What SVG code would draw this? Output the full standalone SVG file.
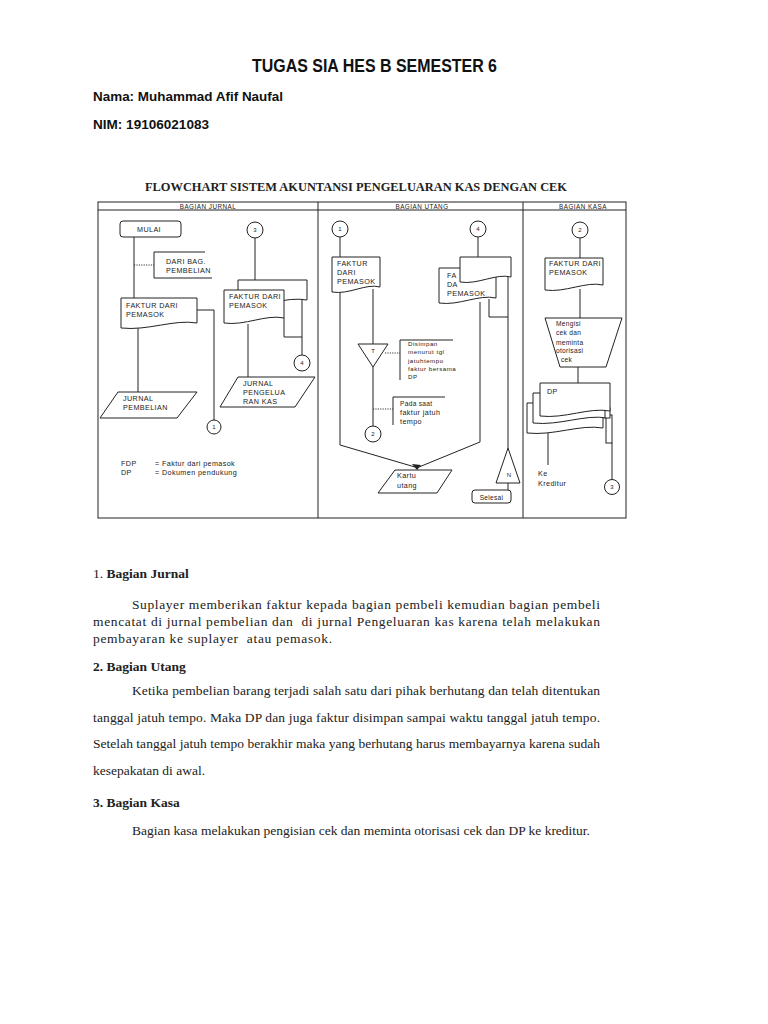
<svg xmlns="http://www.w3.org/2000/svg" width="768" height="1024" viewBox="0 0 768 1024">
<style>
.ln{stroke:#222;fill:none;stroke-width:1}
.sh{stroke:#222;fill:#fff;stroke-width:1}
.dot{stroke:#222;fill:none;stroke-width:0.9;stroke-dasharray:1.2 1.2}
.t{font-family:"Liberation Sans",Arial,sans-serif;font-size:7.2px;letter-spacing:0.4px;fill:#222}
.s{font-family:"Liberation Sans",Arial,sans-serif;font-size:6.2px;letter-spacing:0.5px;fill:#222}
.m{font-family:"Liberation Sans",Arial,sans-serif;font-size:6.6px;letter-spacing:0.3px;fill:#222}
.hd{font-family:"Liberation Sans",Arial,sans-serif;font-size:6.3px;letter-spacing:0.5px;fill:#222;text-anchor:middle}
.c{font-family:"Liberation Sans",Arial,sans-serif;font-size:6px;fill:#222;text-anchor:middle}
.ti{font-family:"Liberation Sans",Arial,sans-serif;font-weight:bold;fill:#111}
.p{font-family:"Liberation Serif","Times New Roman",serif;font-size:13.5px;fill:#222}
.pb{font-family:"Liberation Serif","Times New Roman",serif;font-size:13.5px;font-weight:bold;fill:#222}
</style>
<rect width="768" height="1024" fill="#fff"/>

<text class="ti" x="252" y="72" font-size="19" textLength="245" lengthAdjust="spacingAndGlyphs">TUGAS SIA HES B SEMESTER 6</text>
<text class="ti" x="93" y="101" font-size="12.5" textLength="190" lengthAdjust="spacingAndGlyphs">Nama: Muhammad Afif Naufal</text>
<text class="ti" x="93" y="129" font-size="12.5" textLength="116" lengthAdjust="spacingAndGlyphs">NIM: 19106021083</text>
<text class="pb" x="145" y="191" font-size="12" textLength="422" lengthAdjust="spacingAndGlyphs">FLOWCHART SISTEM AKUNTANSI PENGELUARAN KAS DENGAN CEK</text>

<g id="frame">
<rect x="98" y="202" width="528" height="316" class="ln" stroke-width="1.2"/>
<line x1="98" y1="210" x2="626" y2="210" class="ln"/>
<line x1="318" y1="202" x2="318" y2="518" class="ln"/>
<line x1="523" y1="202" x2="523" y2="518" class="ln"/>
<text class="hd" x="208" y="208.5">BAGIAN JURNAL</text>
<text class="hd" x="422" y="208.5">BAGIAN UTANG</text>
<text class="hd" x="583" y="208.5">BAGIAN KASA</text>
</g>

<g id="connectors">
<path class="ln" d="M134,237 V298"/>
<path class="dot" d="M134,265 H154"/>
<path class="ln" d="M197,310 H214 V420"/>
<path class="ln" d="M138,327 V392"/>
<path class="ln" d="M255,238 V280"/>
<path class="ln" d="M302,300 V355"/>
<path class="ln" d="M284,318 V337 H302"/>
<path class="ln" d="M248,324 V377"/>
<path class="ln" d="M340,237 V257"/>
<path class="ln" d="M340,291 V445 L415,467"/>
<path class="ln" d="M373,289 V344"/>
<path class="ln" d="M373,367 V426"/>
<path class="dot" d="M385,353 H400"/>
<path class="dot" d="M373,409 H393"/>
<path class="ln" d="M478,237 V257"/>
<path class="ln" d="M508,277 V448"/>
<path class="ln" d="M489,299 V317 H508"/>
<path class="ln" d="M480,302 V442 L419,467"/>
<polygon points="417,470 412,464 421,465" fill="#222"/>
<path class="ln" d="M508,483 V490"/>
<path class="ln" d="M580,238 V258"/>
<path class="ln" d="M580,289 V318"/>
<path class="ln" d="M578,367 V383"/>
<path class="ln" d="M548,432 V465"/>
<path class="ln" d="M612,443 V479.5"/>
</g>

<g id="mulai"><rect x="120" y="221" width="61" height="16" rx="3" class="sh"/><text class="t" x="149" y="231.5" text-anchor="middle">MULAI</text></g>
<g id="ann-pembelian"><path class="ln" d="M205,252 H154 V278 H212"/><text class="t" x="166" y="264">DARI BAG.</text><text class="t" x="166" y="272.5">PEMBELIAN</text></g>
<g id="faktur-jurnal"><path class="sh" d="M121,298 H197 V323 C174,319 148,331 121,328 Z"/><text class="t" x="126" y="307.5">FAKTUR DARI</text><text class="t" x="126" y="316.5">PEMASOK</text></g>
<g id="conn1-j"><circle cx="214" cy="427" r="7" class="sh"/><text class="c" x="214" y="429">1</text></g>
<g id="jurnal-pembelian"><polygon class="sh" points="118,392 197,392 177,418 100,418"/><text class="t" x="123" y="400.5">JURNAL</text><text class="t" x="123" y="409.5">PEMBELIAN</text></g>
<g id="conn3-j"><circle cx="255" cy="230" r="8" class="sh"/><text class="c" x="255" y="232">3</text></g>
<g id="faktur-stack-j"><path class="sh" d="M238,280 H307 V300 C286,296 262,308 238,305 Z"/><path class="sh" d="M224,290 H284 V318 C266,314 245,326 224,323 Z"/><text class="t" x="229" y="298.5">FAKTUR DARI</text><text class="t" x="229" y="307.5">PEMASOK</text></g>
<g id="conn4-j"><circle cx="302" cy="363" r="8" class="sh"/><text class="c" x="302" y="365">4</text></g>
<g id="jurnal-pengeluaran"><polygon class="sh" points="238,377 315,377 295,407 220,407"/><text class="t" x="243" y="385.5">JURNAL</text><text class="t" x="243" y="394.5">PENGELUA</text><text class="t" x="243" y="403.5">RAN KAS</text></g>
<g id="legend"><text class="t" x="121" y="466">FDP</text><text class="t" x="155" y="466">= Faktur dari pemasok</text><text class="t" x="121" y="475">DP</text><text class="t" x="155" y="475">= Dokumen pendukung</text></g>

<g id="conn1-u"><circle cx="340" cy="229" r="8" class="sh"/><text class="c" x="340" y="231">1</text></g>
<g id="faktur-utang"><path class="sh" d="M332,257 H380 V287 C366,283 349,295 332,292 Z"/><text class="t" x="337" y="265.5">FAKTUR</text><text class="t" x="337" y="274.5">DARI</text><text class="t" x="337" y="283.5">PEMASOK</text></g>
<g id="arsip-t"><polygon class="sh" points="358,344 388,344 373,367"/><text class="c" x="373" y="353">T</text></g>
<g id="ann-disimpan"><path class="ln" d="M453,340 H400 V380"/><text class="s" x="408" y="346">Disimpan</text><text class="s" x="408" y="354">menurut tgl</text><text class="s" x="408" y="362.5">jatuhtempo</text><text class="s" x="408" y="370.5">faktur bersama</text><text class="s" x="408" y="378.5">DP</text></g>
<g id="ann-pada-saat"><path class="ln" d="M445,397 H393 V425"/><text class="m" x="400" y="406">Pada saat</text><text class="t" x="400" y="414.5">faktur jatuh</text><text class="t" x="400" y="423.5">tempo</text></g>
<g id="conn2-u"><circle cx="373" cy="434" r="8" class="sh"/><text class="c" x="373" y="436">2</text></g>
<g id="conn4-u"><circle cx="478" cy="229" r="8" class="sh"/><text class="c" x="478" y="231">4</text></g>
<g id="faktur-stack-u"><path class="sh" d="M439,268 H496 V298 C479,294 459,306 439,303 Z"/><text class="t" x="447" y="277.5">FA</text><text class="t" x="447" y="286.5">DA</text><text class="t" x="447" y="295.5">PEMASOK</text><path class="sh" d="M460,257 H511 V277 C496,273 478,285 460,282 Z"/></g>
<g id="kartu-utang"><polygon class="sh" points="395,470 452,470 437,493 378,493"/><text class="t" x="397" y="478">Kartu</text><text class="t" x="397" y="488">utang</text></g>
<g id="arsip-n"><polygon class="sh" points="508,448 520,483 496,483"/><text class="c" x="509" y="477">N</text></g>
<g id="selesai"><rect x="472" y="490" width="39" height="13" rx="3" class="sh"/><text class="m" x="491.5" y="499.5" text-anchor="middle">Selesai</text></g>

<g id="conn2-k"><circle cx="580" cy="230" r="8" class="sh"/><text class="c" x="580" y="232">2</text></g>
<g id="faktur-kasa"><path class="sh" d="M545,258 H603 V285 C586,281 565,293 545,290 Z"/><text class="t" x="549" y="265.5">FAKTUR DARI</text><text class="t" x="549" y="274.5">PEMASOK</text></g>
<g id="mengisi-cek"><polygon class="sh" points="545,318 622,318 606,367 560,367"/><text class="m" x="556" y="326">Mengisi</text><text class="m" x="556" y="335">cek dan</text><text class="m" x="556" y="344.5">meminta</text><text class="m" x="556" y="353">otorisasi</text><text class="m" x="561" y="362">cek</text></g>
<g id="dp-stack">
<path class="sh" d="M527,403 H603 V428 C580,424 554,436 527,433 Z"/>
<path class="sh" d="M533,393 H607 V418 C585,414 559,426 533,423 Z"/>
<rect x="606" y="415" width="6" height="28" class="sh"/>
<rect x="605" y="408" width="5" height="10" class="sh"/>
<path class="sh" d="M540,383 H610 V411 C589,407 565,419 540,416 Z"/>
<text class="t" x="547" y="393.5">DP</text>
</g>
<g id="ke-kreditur"><text class="t" x="538" y="476">Ke</text><text class="t" x="538" y="486">Kreditur</text></g>
<g id="conn3-k"><circle cx="612" cy="487" r="7.5" class="sh"/><text class="c" x="612" y="489">3</text></g>

<g id="text">
<text class="p" x="93" y="578">1. <tspan class="pb">Bagian Jurnal</tspan></text>
<text class="p" x="132" y="609" textLength="468" lengthAdjust="spacing">Suplayer memberikan faktur kepada bagian pembeli kemudian bagian pembeli</text>
<text class="p" x="93" y="626" textLength="507" lengthAdjust="spacing" xml:space="preserve">mencatat di jurnal pembelian dan  di jurnal Pengeluaran kas karena telah melakukan</text>
<text class="p" x="93" y="643" textLength="239" lengthAdjust="spacing" xml:space="preserve">pembayaran ke suplayer  atau pemasok.</text>
<text class="pb" x="93" y="671">2. Bagian Utang</text>
<text class="p" x="132" y="695" textLength="468" lengthAdjust="spacing">Ketika pembelian barang terjadi salah satu dari pihak berhutang dan telah ditentukan</text>
<text class="p" x="93" y="722" textLength="507" lengthAdjust="spacing">tanggal jatuh tempo. Maka DP dan juga faktur disimpan sampai waktu tanggal jatuh tempo.</text>
<text class="p" x="93" y="748" textLength="507" lengthAdjust="spacing">Setelah tanggal jatuh tempo berakhir maka yang berhutang harus membayarnya karena sudah</text>
<text class="p" x="93" y="775">kesepakatan di awal.</text>
<text class="pb" x="93" y="807">3. Bagian Kasa</text>
<text class="p" x="132" y="835">Bagian kasa melakukan pengisian cek dan meminta otorisasi cek dan DP ke kreditur.</text>
</g>
</svg>
